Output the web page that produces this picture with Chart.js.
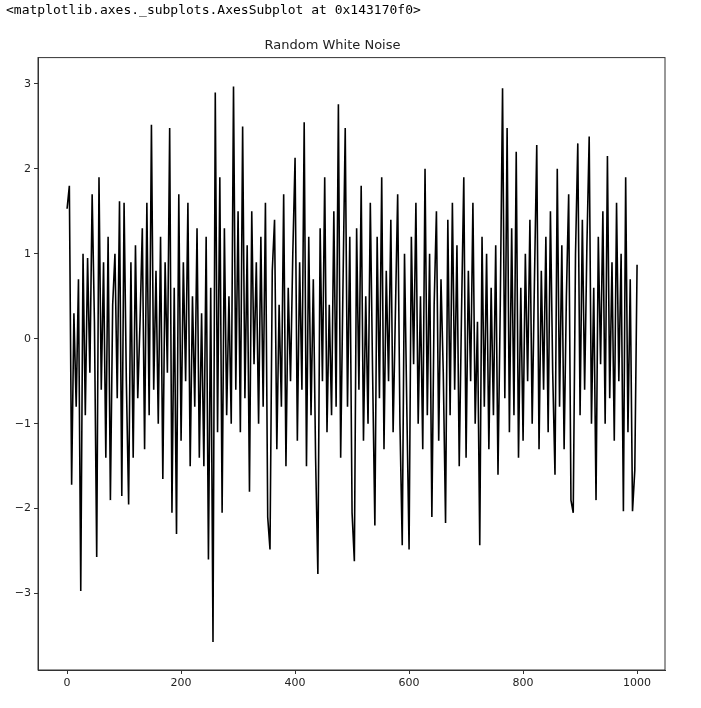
<!DOCTYPE html>
<html><head><meta charset="utf-8">
<script src="https://cdn.jsdelivr.net/npm/chart.js@4/dist/chart.umd.min.js"></script>
<style>
html,body{margin:0;padding:0;background:#fff;}
#hdr{position:absolute;left:6px;top:2px;font-family:"DejaVu Sans Mono",monospace;font-size:13px;color:#000;}
#wrap{position:absolute;left:0;top:0;width:701px;height:708px;}
</style></head><body>
<div id="wrap"><canvas id="c" width="701" height="708"></canvas></div>
<div id="hdr">&lt;matplotlib.axes._subplots.AxesSubplot at 0x143170f0&gt;</div>
<script>
const sampleStep = 4;
const noiseValues = [
1.53,1.8,-1.72,0.3,-0.8,0.7,-2.97,1.0,-0.9,0.95,-0.4,1.7,0.2,-2.57,1.9,-0.6,0.9,-1.4,1.2,-1.9,0.4,1.0,-0.7,1.62,-1.85,
1.6,-0.5,-1.95,0.9,-1.4,1.1,-0.7,0.2,1.3,-1.3,1.6,-0.9,2.52,-0.6,0.8,-1.0,1.2,-1.65,0.9,-0.4,2.48,-2.05,0.6,-2.3,1.7,
-1.2,0.9,-0.5,1.6,-1.5,0.5,-0.8,1.3,-1.4,0.3,-1.5,1.2,-2.6,0.6,-3.57,2.9,-1.1,1.9,-2.05,1.3,-0.9,0.5,-1.0,2.97,-0.6,
1.5,-1.1,2.5,-0.7,1.1,-1.8,1.5,-0.3,0.9,-1.0,1.2,-0.8,1.6,-2.1,-2.48,0.8,1.4,-1.3,0.4,-0.8,1.7,-1.5,0.6,-0.5,1.0,
2.13,-1.2,0.9,-0.6,2.55,-1.5,1.2,-0.9,0.7,-1.4,-2.77,1.3,-0.5,1.9,-1.1,0.4,-0.9,1.5,-0.8,2.76,-1.4,0.6,2.48,-0.8,1.2,
-2.05,-2.62,1.3,-0.6,1.8,-1.2,0.5,-1.0,1.6,-0.4,-2.2,1.2,-0.7,1.9,-1.3,0.8,-0.5,1.4,-1.1,0.3,1.7,-1.0,-2.43,1.0,-0.8,
-2.48,1.2,-0.3,1.6,-1.0,0.5,-1.3,2.0,-0.9,1.0,-2.1,0.4,1.5,-1.2,0.7,-0.4,-2.17,1.4,-0.9,1.6,-0.6,1.1,-1.5,0.3,1.9,
-1.4,0.8,-0.5,1.6,-1.0,0.2,-2.43,1.2,-0.8,1.0,-1.3,0.6,-0.9,1.1,-1.6,0.4,2.95,-0.7,2.48,-1.1,1.3,-0.9,2.2,-1.4,0.6,
-1.2,1.0,-0.5,1.4,-1.0,0.7,2.28,-1.3,0.8,-0.6,1.2,-1.1,1.5,-0.4,-1.6,2.0,-0.8,1.1,-1.3,0.5,1.7,-1.9,-2.05,1.0,2.3,
-0.9,1.4,-0.6,1.1,2.38,-1.0,0.6,-1.9,1.2,-0.3,1.5,-1.0,2.15,-0.7,0.9,-1.2,1.6,-0.5,1.0,-2.03,1.9,-1.1,0.7,-2.03,-1.55,
0.87];
const xTicks = [0,200,400,600,800,1000];
const yTicks = [-3,-2,-1,0,1,2,3];
const titleText = "Random White Noise";

const pts = noiseValues.map((v,i)=>({x:i*sampleStep,y:v}));
const tickFont = {family:"DejaVu Sans",size:11};
const gridOpts = {display:true,drawOnChartArea:false,drawTicks:true,tickLength:4,color:'#333'};
new Chart(document.getElementById('c'),{
  type:'line',
  data:{datasets:[{data:pts,borderColor:'#000',borderWidth:1.6,pointRadius:0,tension:0,fill:false}]},
  options:{
    responsive:false,animation:false,
    layout:{padding:{left:0,right:36,top:0,bottom:0}},
    plugins:{legend:{display:false},tooltip:{enabled:false},
      title:{display:true,text:titleText,color:'#222',font:{family:"DejaVu Sans",size:13,weight:'normal'},padding:{top:38,bottom:4}}},
    scales:{
      x:{type:'linear',min:-51,max:1049,grid:gridOpts,
        border:{display:true,color:'#333'},
        afterBuildTicks:s=>{s.ticks=xTicks.map(v=>({value:v}));},
        afterFit:s=>{s.height=38;},
        ticks:{color:'#222',font:tickFont,autoSkip:false,maxRotation:0,padding:3,callback:v=>String(v)}},
      y:{type:'linear',min:-3.9,max:3.31,grid:gridOpts,
        border:{display:true,color:'#333'},
        afterBuildTicks:s=>{s.ticks=yTicks.map(v=>({value:v}));},
        afterFit:s=>{s.width=38;},
        ticks:{color:'#222',font:tickFont,autoSkip:false,padding:3,callback:v=>String(v).replace('-','\u2212')}}
    }
  },
  plugins:[{id:'frame',afterDraw(c){const a=c.chartArea,x=c.ctx;x.save();x.strokeStyle='#333';x.lineWidth=1;x.strokeRect(a.left,a.top,a.right-a.left,a.bottom-a.top);x.restore();}}]
});
</script>
</body></html>
